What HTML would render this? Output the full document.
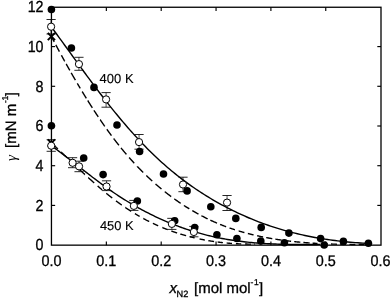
<!DOCTYPE html>
<html><head><meta charset="utf-8"><style>
html,body{margin:0;padding:0;background:#fff;}
svg{display:block;text-rendering:geometricPrecision;}
</style></head><body>
<svg width="392" height="299" viewBox="0 0 392 299">
<rect x="51.45" y="7.25" width="329.55" height="237.9" fill="none" stroke="#000" stroke-width="1.3"/>
<line x1="106.35" y1="245.15" x2="106.35" y2="241.45" stroke="#000" stroke-width="1.15"/>
<line x1="106.35" y1="7.25" x2="106.35" y2="10.95" stroke="#000" stroke-width="1.15"/>
<line x1="161.20" y1="245.15" x2="161.20" y2="241.45" stroke="#000" stroke-width="1.15"/>
<line x1="161.20" y1="7.25" x2="161.20" y2="10.95" stroke="#000" stroke-width="1.15"/>
<line x1="216.05" y1="245.15" x2="216.05" y2="241.45" stroke="#000" stroke-width="1.15"/>
<line x1="216.05" y1="7.25" x2="216.05" y2="10.95" stroke="#000" stroke-width="1.15"/>
<line x1="270.90" y1="245.15" x2="270.90" y2="241.45" stroke="#000" stroke-width="1.15"/>
<line x1="270.90" y1="7.25" x2="270.90" y2="10.95" stroke="#000" stroke-width="1.15"/>
<line x1="325.75" y1="245.15" x2="325.75" y2="241.45" stroke="#000" stroke-width="1.15"/>
<line x1="325.75" y1="7.25" x2="325.75" y2="10.95" stroke="#000" stroke-width="1.15"/>
<line x1="51.45" y1="205.40" x2="55.15" y2="205.40" stroke="#000" stroke-width="1.15"/>
<line x1="381.0" y1="205.40" x2="377.30" y2="205.40" stroke="#000" stroke-width="1.15"/>
<line x1="51.45" y1="165.70" x2="55.15" y2="165.70" stroke="#000" stroke-width="1.15"/>
<line x1="381.0" y1="165.70" x2="377.30" y2="165.70" stroke="#000" stroke-width="1.15"/>
<line x1="51.45" y1="126.00" x2="55.15" y2="126.00" stroke="#000" stroke-width="1.15"/>
<line x1="381.0" y1="126.00" x2="377.30" y2="126.00" stroke="#000" stroke-width="1.15"/>
<line x1="51.45" y1="86.30" x2="55.15" y2="86.30" stroke="#000" stroke-width="1.15"/>
<line x1="381.0" y1="86.30" x2="377.30" y2="86.30" stroke="#000" stroke-width="1.15"/>
<line x1="51.45" y1="46.60" x2="55.15" y2="46.60" stroke="#000" stroke-width="1.15"/>
<line x1="381.0" y1="46.60" x2="377.30" y2="46.60" stroke="#000" stroke-width="1.15"/>
<path d="M51.20,26.70 L52.69,28.71 L54.17,30.73 L55.65,32.76 L57.13,34.78 L58.61,36.82 L60.09,38.85 L61.58,40.89 L63.06,42.94 L64.54,44.98 L66.02,47.03 L67.50,49.08 L68.99,51.14 L70.47,53.19 L71.96,55.25 L73.45,57.31 L74.94,59.36 L76.43,61.42 L77.93,63.49 L79.42,65.55 L80.92,67.61 L82.42,69.67 L83.93,71.73 L85.44,73.78 L86.95,75.84 L88.47,77.90 L89.99,79.95 L91.51,82.00 L93.04,84.05 L94.57,86.10 L96.11,88.14 L97.65,90.18 L99.20,92.22 L100.75,94.25 L102.31,96.28 L103.87,98.30 L105.44,100.32 L107.01,102.33 L108.59,104.34 L110.18,106.35 L111.78,108.34 L113.38,110.33 L114.99,112.32 L116.60,114.30 L118.23,116.27 L119.86,118.23 L121.50,120.19 L123.14,122.14 L124.80,124.08 L126.46,126.01 L128.13,127.93 L129.82,129.84 L131.51,131.75 L133.21,133.64 L134.91,135.53 L136.63,137.40 L138.36,139.27 L140.10,141.12 L141.85,142.96 L143.61,144.79 L145.38,146.61 L147.16,148.42 L148.95,150.22 L150.76,152.00 L152.57,153.77 L154.40,155.53 L156.24,157.27 L158.09,159.00 L159.95,160.71 L161.83,162.42 L163.71,164.10 L165.62,165.78 L167.53,167.43 L169.46,169.08 L171.40,170.70 L173.35,172.31 L175.32,173.91 L177.30,175.49 L179.30,177.05 L181.30,178.60 L183.32,180.13 L185.35,181.64 L187.40,183.14 L189.45,184.62 L191.52,186.08 L193.60,187.53 L195.70,188.96 L197.80,190.37 L199.92,191.77 L202.04,193.15 L204.18,194.51 L206.33,195.86 L208.49,197.19 L210.67,198.50 L212.85,199.79 L215.04,201.06 L217.25,202.32 L219.46,203.56 L221.69,204.78 L223.92,205.98 L226.16,207.17 L228.42,208.34 L230.68,209.48 L232.96,210.61 L235.24,211.72 L237.53,212.82 L239.83,213.89 L242.14,214.95 L244.46,215.98 L246.79,217.00 L249.13,217.99 L251.47,218.97 L253.83,219.93 L256.19,220.87 L258.56,221.79 L260.93,222.69 L263.32,223.57 L265.71,224.43 L268.11,225.27 L270.52,226.09 L272.93,226.89 L275.36,227.67 L277.78,228.43 L280.22,229.17 L282.66,229.89 L285.11,230.59 L287.57,231.27 L290.03,231.92 L292.49,232.56 L294.97,233.18 L297.44,233.78 L299.93,234.36 L302.41,234.92 L304.90,235.46 L307.40,235.99 L309.90,236.49 L312.41,236.98 L314.91,237.45 L317.43,237.90 L319.94,238.33 L322.46,238.74 L324.98,239.14 L327.50,239.52 L330.03,239.88 L332.56,240.23 L335.09,240.56 L337.62,240.87 L340.15,241.17 L342.68,241.45 L345.22,241.71 L347.75,241.96 L350.29,242.19 L352.83,242.40 L355.36,242.61 L357.90,242.79 L360.44,242.96 L362.97,243.12 L365.51,243.26 L368.04,243.39 L370.57,243.50" fill="none" stroke="#000" stroke-width="1.4"/>
<path d="M51.40,36.50 L51.41,36.52 L51.64,36.97 L51.88,37.42 L52.11,37.86 L52.35,38.31 L52.58,38.76 L52.82,39.21 L53.05,39.66 L53.29,40.10 L53.52,40.55 L53.76,41.00 L54.00,41.45 L54.21,41.86 M55.79,44.83 L55.80,44.85 L56.03,45.29 L56.27,45.74 L56.51,46.19 L56.75,46.63 L56.99,47.08 L57.22,47.52 L57.46,47.97 L57.70,48.42 L57.94,48.86 L58.18,49.31 L58.42,49.75 L58.66,50.20 L58.90,50.64 L59.14,51.09 L59.38,51.54 L59.41,51.59 M61.39,55.25 L61.39,55.25 L61.64,55.70 L61.88,56.14 L62.12,56.59 L62.36,57.03 L62.61,57.47 L62.85,57.92 L63.09,58.36 L63.34,58.80 L63.58,59.25 L63.82,59.69 L64.07,60.13 L64.31,60.58 L64.56,61.02 L64.71,61.29 M66.19,63.97 L66.20,63.98 L66.44,64.42 L66.69,64.86 L66.93,65.30 L67.18,65.74 L67.43,66.18 L67.68,66.63 L67.92,67.07 L68.17,67.51 L68.42,67.95 L68.67,68.39 L68.92,68.83 L69.16,69.27 L69.41,69.71 L69.66,70.15 L69.80,70.40 M71.20,72.86 L71.20,72.86 L71.45,73.30 L71.70,73.74 L71.96,74.18 L72.21,74.62 L72.46,75.06 L72.71,75.50 L72.96,75.94 L73.22,76.37 L73.47,76.81 L73.72,77.25 L73.98,77.69 L74.23,78.13 L74.48,78.56 L74.74,79.00 L74.99,79.44 L75.25,79.88 L75.40,80.14 M77.30,83.39 L77.30,83.39 L77.56,83.82 L77.82,84.26 L78.08,84.70 L78.33,85.13 L78.59,85.57 L78.85,86.00 L79.11,86.44 L79.37,86.87 L79.63,87.31 L79.89,87.74 L80.15,88.18 L80.29,88.42 M82.21,91.60 L82.22,91.61 L82.48,92.05 L82.74,92.48 L83.01,92.91 L83.27,93.35 L83.53,93.78 L83.80,94.21 L84.06,94.64 L84.33,95.08 L84.59,95.51 L84.86,95.94 L85.12,96.37 L85.39,96.80 L85.65,97.23 L85.92,97.67 L86.19,98.10 L86.29,98.26 M87.71,100.55 L87.72,100.56 L87.99,100.99 L88.26,101.42 L88.53,101.85 L88.80,102.28 L89.07,102.71 L89.34,103.14 L89.61,103.56 L89.88,103.99 L90.15,104.42 L90.42,104.85 L90.69,105.28 L90.97,105.71 L91.24,106.13 L91.51,106.56 L91.79,106.99 L92.06,107.42 L92.34,107.84 L92.38,107.92 M94.02,110.44 L94.02,110.45 L94.30,110.88 L94.58,111.30 L94.85,111.73 L95.13,112.15 L95.41,112.57 L95.69,113.00 L95.97,113.42 L96.25,113.85 L96.53,114.27 L96.81,114.69 L97.09,115.12 L97.37,115.54 L97.65,115.96 L97.93,116.38 L98.22,116.80 L98.28,116.90 M100.22,119.78 L100.23,119.78 L100.51,120.20 L100.80,120.62 L101.08,121.04 L101.37,121.46 L101.66,121.88 L101.95,122.30 L102.23,122.71 L102.52,123.13 L102.81,123.55 L103.10,123.97 L103.39,124.38 L103.68,124.80 L103.97,125.21 L104.26,125.63 L104.56,126.04 L104.77,126.35 M106.83,129.25 L106.84,129.26 L107.13,129.67 L107.43,130.08 L107.72,130.49 L108.02,130.90 L108.32,131.31 L108.62,131.72 L108.92,132.13 L109.21,132.54 L109.51,132.95 L109.81,133.36 L110.11,133.77 L110.42,134.18 L110.72,134.59 L111.02,135.00 L111.32,135.40 L111.46,135.59 M113.64,138.49 L113.65,138.50 L113.96,138.90 L114.26,139.31 L114.57,139.71 L114.88,140.11 L115.19,140.52 L115.50,140.92 L115.81,141.32 L116.12,141.72 L116.43,142.12 L116.74,142.52 L117.06,142.92 L117.37,143.32 L117.68,143.72 L118.00,144.12 L118.31,144.51 L118.63,144.91 L118.94,145.31 L118.95,145.32 M121.05,147.93 L121.06,147.95 L121.38,148.34 L121.70,148.73 L122.02,149.13 L122.35,149.52 L122.67,149.91 L122.99,150.30 L123.31,150.69 L123.64,151.08 L123.96,151.47 L124.29,151.86 L124.61,152.25 L124.94,152.63 L125.27,153.02 L125.59,153.41 L125.92,153.80 L126.25,154.18 L126.44,154.40 M129.16,157.55 L129.17,157.56 L129.50,157.94 L129.84,158.32 L130.18,158.70 L130.51,159.08 L130.85,159.45 L131.19,159.83 L131.53,160.21 L131.87,160.59 L132.21,160.96 L132.55,161.34 L132.89,161.71 L133.23,162.09 L133.57,162.46 L133.91,162.84 L134.23,163.18 M137.28,166.43 L137.28,166.44 L137.63,166.81 L137.98,167.17 L138.34,167.54 L138.69,167.90 L139.04,168.27 L139.39,168.63 L139.75,169.00 L140.10,169.36 L140.46,169.72 L140.82,170.08 L141.17,170.44 L141.53,170.81 L141.89,171.17 L142.25,171.52 L142.61,171.88 L142.97,172.24 L143.22,172.49 M146.29,175.48 L146.30,175.49 L146.66,175.84 L147.03,176.19 L147.40,176.54 L147.77,176.89 L148.14,177.24 L148.51,177.59 L148.88,177.93 L149.25,178.28 L149.62,178.63 L149.99,178.97 L150.37,179.32 L150.74,179.66 L151.12,180.00 L151.49,180.35 L151.87,180.69 L152.24,181.03 L152.30,181.08 M155.50,183.92 L155.51,183.93 L155.89,184.26 L156.27,184.60 L156.66,184.93 L157.04,185.26 L157.43,185.59 L157.81,185.92 L158.20,186.25 L158.59,186.58 L158.98,186.91 L159.36,187.23 L159.75,187.56 L160.14,187.89 L160.53,188.21 L160.92,188.53 L161.31,188.86 L161.48,189.00 M164.81,191.69 L164.82,191.69 L165.21,192.01 L165.61,192.32 L166.01,192.64 L166.41,192.95 L166.81,193.26 L167.21,193.57 L167.61,193.88 L168.01,194.19 L168.41,194.50 L168.82,194.81 L169.22,195.12 L169.62,195.42 L170.03,195.73 L170.43,196.03 L170.84,196.34 L171.18,196.59 M174.32,198.89 L174.34,198.90 L174.75,199.20 L175.16,199.49 L175.57,199.78 L175.99,200.08 L176.40,200.37 L176.81,200.66 L177.23,200.95 L177.65,201.24 L178.06,201.53 L178.48,201.82 L178.90,202.10 L179.31,202.39 L179.73,202.67 L180.15,202.96 L180.57,203.24 L180.67,203.30 M183.94,205.46 L183.95,205.47 L184.37,205.74 L184.80,206.02 L185.22,206.29 L185.65,206.56 L186.08,206.83 L186.50,207.10 L186.93,207.37 L187.36,207.64 L187.79,207.90 L188.22,208.17 L188.65,208.43 L189.08,208.70 L189.26,208.81 M192.34,210.66 L192.35,210.66 L192.79,210.92 L193.23,211.17 L193.66,211.42 L194.10,211.68 L194.54,211.93 L194.98,212.18 L195.41,212.43 L195.85,212.68 L196.29,212.92 L196.73,213.17 L197.17,213.42 L197.62,213.66 L198.06,213.90 L198.45,214.12 M201.55,215.78 L201.56,215.78 L202.01,216.02 L202.45,216.25 L202.90,216.48 L203.35,216.71 L203.80,216.94 L204.25,217.17 L204.70,217.40 L205.15,217.63 L205.60,217.85 L206.05,218.08 L206.50,218.30 L206.95,218.52 L207.41,218.74 L207.64,218.85 M210.36,220.15 L210.37,220.16 L210.83,220.37 L211.29,220.58 L211.75,220.79 L212.20,221.00 L212.66,221.21 L213.12,221.42 L213.58,221.62 L214.04,221.83 L214.50,222.03 L214.96,222.23 L215.43,222.43 L215.89,222.63 L216.35,222.83 L216.82,223.03 L217.03,223.12 M220.07,224.38 L220.07,224.38 L220.54,224.57 L221.01,224.76 L221.48,224.95 L221.95,225.13 L222.41,225.32 L222.88,225.50 L223.35,225.68 L223.83,225.86 L224.30,226.04 L224.77,226.22 L225.24,226.40 L225.71,226.57 L226.12,226.72 M229.58,227.96 L229.59,227.97 L230.06,228.13 L230.54,228.30 L231.02,228.46 L231.49,228.62 L231.97,228.79 L232.45,228.95 L232.93,229.11 L233.41,229.26 L233.89,229.42 L234.37,229.58 L234.85,229.73 L234.92,229.75 M238.68,230.93 L238.69,230.93 L239.18,231.07 L239.66,231.22 L240.15,231.36 L240.63,231.51 L241.12,231.65 L241.60,231.79 L242.09,231.93 L242.58,232.07 L243.06,232.20 L243.55,232.34 L244.04,232.48 L244.41,232.58 M247.89,233.51 L247.90,233.51 L248.39,233.64 L248.88,233.76 L249.37,233.89 L249.86,234.01 L250.35,234.13 L250.85,234.26 L251.34,234.38 L251.83,234.50 L252.33,234.62 L252.82,234.73 L253.31,234.85 L253.61,234.92 M257.09,235.72 L257.10,235.72 L257.59,235.83 L258.09,235.94 L258.59,236.05 L259.09,236.15 L259.58,236.26 L260.08,236.36 L260.58,236.47 L261.08,236.57 L261.58,236.67 L262.08,236.77 L262.57,236.88 L263.07,236.98 L263.11,236.98 M266.19,237.58 L266.19,237.58 L266.70,237.67 L267.20,237.77 L267.70,237.86 L268.20,237.95 L268.70,238.04 L269.20,238.13 L269.71,238.22 L270.21,238.31 L270.71,238.39 L271.21,238.48 L271.72,238.57 L272.22,238.65 L272.31,238.66 M275.40,239.17 L275.41,239.17 L275.91,239.25 L276.42,239.33 L276.92,239.40 L277.43,239.48 L277.93,239.56 L278.44,239.63 L278.94,239.71 L279.45,239.78 L279.95,239.85 L280.46,239.93 L280.97,240.00 L281.47,240.07 L281.60,240.09 M284.80,240.52 L284.82,240.52 L285.32,240.58 L285.83,240.65 L286.34,240.71 L286.85,240.78 L287.35,240.84 L287.86,240.90 L288.37,240.96 L288.88,241.02 L289.39,241.08 L289.89,241.14 L290.40,241.20 L290.91,241.26 L291.10,241.28 M294.20,241.62 L294.21,241.62 L294.72,241.67 L295.23,241.72 L295.73,241.77 L296.24,241.83 L296.75,241.88 L297.26,241.93 L297.77,241.98 L298.28,242.02 L298.79,242.07 L299.30,242.12 L299.81,242.17 L300.30,242.21 M303.40,242.48 L303.42,242.48 L303.93,242.52 L304.44,242.57 L304.95,242.61 L305.46,242.65 L305.97,242.69 L306.48,242.73 L306.99,242.76 L307.50,242.80 L308.01,242.84 L308.52,242.88 L309.02,242.91 L309.53,242.95 L309.60,242.96 M312.60,243.16 L312.61,243.16 L313.12,243.19 L313.63,243.22 L314.14,243.25 L314.65,243.28 L315.16,243.31 L315.67,243.34 L316.18,243.37 L316.69,243.40 L317.20,243.43 L317.50,243.45 M321.81,243.67 L321.82,243.67 L322.33,243.69 L322.83,243.71 L323.34,243.74 L323.85,243.76 L324.36,243.78 L324.87,243.80 L325.37,243.82 L325.88,243.85 L326.39,243.87 L326.90,243.89 L327.40,243.90 L327.68,243.92 M331.03,244.03 L331.03,244.03 L331.54,244.05 L332.05,244.07 L332.55,244.08 L333.06,244.10 L333.56,244.11 L334.07,244.12 L334.58,244.14 L335.08,244.15 L335.59,244.17 L336.09,244.18 L336.60,244.19 L336.90,244.20 M340.25,244.27 L340.27,244.27 L340.77,244.28 L341.27,244.29 L341.78,244.30 L342.28,244.31 L342.78,244.32 L343.28,244.33 L343.79,244.34 L344.29,244.34 L344.79,244.35 L345.29,244.36 L345.79,244.37 L346.12,244.37 M349.48,244.41 L349.48,244.41 L349.98,244.41 L350.48,244.42 L350.98,244.42 L351.47,244.43 L351.97,244.43 L352.47,244.43 L352.97,244.44 L353.47,244.44 L353.96,244.44 L354.46,244.44 L354.96,244.45 L355.35,244.45 M358.70,244.46 L358.71,244.46 L359.20,244.46 L359.69,244.46 L360.19,244.46 L360.68,244.46 L361.18,244.46 L361.67,244.46 L362.16,244.46 L362.65,244.46 L363.15,244.46 L363.64,244.46 L364.13,244.46 L364.57,244.45" fill="none" stroke="#000" stroke-width="1.4"/>
<path d="M51.20,145.70 L52.71,146.77 L54.21,147.85 L55.72,148.94 L57.21,150.03 L58.70,151.13 L60.19,152.24 L61.68,153.35 L63.16,154.46 L64.63,155.58 L66.11,156.71 L67.58,157.83 L69.05,158.96 L70.52,160.10 L71.99,161.23 L73.46,162.37 L74.92,163.51 L76.39,164.65 L77.85,165.79 L79.31,166.94 L80.77,168.08 L82.24,169.22 L83.70,170.36 L85.17,171.50 L86.63,172.64 L88.10,173.78 L89.57,174.92 L91.04,176.05 L92.51,177.18 L93.99,178.31 L95.46,179.43 L96.94,180.55 L98.43,181.66 L99.91,182.77 L101.40,183.87 L102.90,184.97 L104.40,186.06 L105.90,187.15 L107.41,188.22 L108.92,189.30 L110.44,190.36 L111.97,191.41 L113.50,192.46 L115.03,193.50 L116.57,194.53 L118.12,195.55 L119.67,196.56 L121.23,197.57 L122.79,198.56 L124.36,199.55 L125.93,200.53 L127.51,201.50 L129.10,202.46 L130.69,203.41 L132.28,204.35 L133.89,205.28 L135.49,206.21 L137.10,207.12 L138.72,208.02 L140.35,208.92 L141.97,209.80 L143.61,210.68 L145.25,211.54 L146.89,212.40 L148.54,213.24 L150.20,214.08 L151.86,214.90 L153.53,215.71 L155.20,216.52 L156.87,217.31 L158.56,218.09 L160.24,218.86 L161.94,219.62 L163.63,220.37 L165.34,221.11 L167.05,221.84 L168.76,222.55 L170.48,223.26 L172.20,223.95 L173.93,224.64 L175.66,225.31 L177.39,225.97 L179.13,226.61 L180.88,227.25 L182.63,227.87 L184.38,228.49 L186.14,229.09 L187.90,229.67 L189.66,230.25 L191.43,230.81 L193.20,231.37 L194.98,231.91 L196.76,232.43 L198.54,232.95 L200.32,233.45 L202.11,233.94 L203.90,234.41 L205.70,234.88 L207.50,235.33 L209.30,235.77 L211.10,236.19 L212.91,236.60 L214.72,237.00 L216.53,237.38 L218.34,237.76 L220.16,238.12 L221.98,238.47 L223.80,238.80 L225.62,239.12 L227.45,239.44 L229.27,239.74 L231.10,240.03 L232.93,240.30 L234.77,240.57 L236.60,240.83 L238.44,241.07 L240.28,241.31 L242.12,241.53 L243.96,241.75 L245.80,241.95 L247.65,242.15 L249.49,242.34 L251.34,242.51 L253.19,242.68 L255.04,242.84 L256.89,242.99 L258.74,243.13 L260.59,243.27 L262.45,243.39 L264.30,243.51 L266.16,243.62 L268.01,243.72 L269.87,243.82 L271.73,243.91 L273.59,243.99 L275.44,244.07 L277.30,244.13 L279.16,244.20 L281.02,244.25 L282.88,244.30 L284.74,244.35 L286.60,244.39 L288.46,244.42 L290.31,244.45 L292.17,244.47 L294.03,244.49 L295.89,244.51 L297.75,244.52 L299.61,244.53 L301.46,244.53 L303.32,244.53 L305.18,244.52 L307.03,244.51 L308.88,244.50 L310.74,244.49 L312.59,244.47 L314.44,244.45 L316.29,244.43 L318.14,244.40 L319.99,244.38" fill="none" stroke="#000" stroke-width="1.4"/>
<path d="M51.40,143.00 L51.40,143.00 L51.62,143.19 L51.83,143.39 L52.04,143.58 L52.26,143.78 L52.47,143.97 L52.69,144.17 L52.90,144.37 L53.12,144.56 L53.33,144.76 L53.54,144.95 L53.76,145.15 L53.97,145.35 L54.19,145.54 L54.40,145.74 L54.61,145.94 L54.83,146.13 L55.04,146.33 L55.26,146.53 L55.47,146.73 L55.68,146.92 L55.90,147.12 L56.11,147.32 L56.32,147.52 L56.54,147.71 L56.75,147.91 L56.97,148.11 L57.18,148.31 L57.39,148.51 L57.61,148.71 L57.82,148.90 L57.94,149.02 M61.29,152.16 L61.30,152.16 L61.51,152.36 L61.72,152.56 L61.94,152.76 L62.15,152.96 L62.36,153.17 L62.58,153.37 L62.79,153.57 L63.00,153.77 L63.21,153.97 L63.43,154.17 L63.64,154.37 L63.85,154.57 L64.07,154.77 L64.28,154.98 L64.49,155.18 L64.70,155.38 L64.92,155.58 L65.13,155.78 L65.34,155.98 L65.56,156.19 L65.77,156.39 L65.98,156.59 L66.19,156.79 L66.41,156.99 L66.62,157.20 L66.83,157.40 L67.05,157.60 L67.12,157.68 M70.29,160.69 L70.29,160.69 L70.50,160.89 L70.72,161.09 L70.93,161.30 L71.14,161.50 L71.36,161.70 L71.57,161.90 L71.78,162.11 L72.00,162.31 L72.21,162.51 L72.42,162.72 L72.64,162.92 L72.85,163.12 L73.06,163.32 L73.28,163.53 L73.49,163.73 L73.70,163.93 L73.92,164.14 L74.13,164.34 L74.35,164.54 L74.56,164.75 L74.77,164.95 L74.99,165.15 L75.20,165.35 L75.41,165.56 L75.63,165.76 L75.84,165.96 L75.91,166.03 M79.29,169.23 L79.30,169.23 L79.51,169.43 L79.73,169.64 L79.94,169.84 L80.16,170.04 L80.37,170.24 L80.59,170.45 L80.80,170.65 L81.02,170.85 L81.23,171.05 L81.45,171.25 L81.66,171.46 L81.88,171.66 L82.09,171.86 L82.31,172.06 L82.53,172.26 L82.74,172.47 L82.96,172.67 L83.17,172.87 L83.39,173.07 L83.60,173.27 L83.82,173.47 L84.04,173.67 L84.25,173.88 L84.47,174.08 L84.69,174.28 L84.90,174.48 L84.91,174.48 M88.29,177.61 L88.30,177.61 L88.52,177.81 L88.73,178.01 L88.95,178.21 L89.17,178.41 L89.39,178.61 L89.61,178.81 L89.83,179.01 L90.04,179.21 L90.26,179.40 L90.48,179.60 L90.70,179.80 L90.92,180.00 L91.14,180.20 L91.36,180.40 L91.58,180.59 L91.80,180.79 L92.02,180.99 L92.24,181.19 L92.46,181.38 L92.68,181.58 L92.90,181.78 L93.12,181.98 L93.34,182.17 L93.56,182.37 L93.78,182.57 L94.00,182.76 L94.20,182.94 M97.60,185.94 L97.60,185.94 L97.83,186.14 L98.05,186.33 L98.27,186.52 L98.49,186.72 L98.72,186.91 L98.94,187.10 L99.16,187.30 L99.39,187.49 L99.61,187.68 L99.84,187.87 L100.06,188.07 L100.28,188.26 L100.51,188.45 L100.73,188.64 L100.96,188.83 L101.18,189.02 L101.41,189.21 L101.63,189.41 L101.86,189.60 L102.08,189.79 L102.19,189.88 M106.31,193.30 L106.32,193.31 L106.54,193.49 L106.77,193.68 L107.00,193.87 L107.23,194.05 L107.46,194.24 L107.69,194.42 L107.92,194.61 L108.15,194.79 L108.38,194.98 L108.61,195.16 L108.84,195.35 L109.07,195.53 L109.30,195.71 L109.53,195.90 L109.76,196.08 L109.99,196.26 L110.22,196.45 L110.45,196.63 L110.68,196.81 L110.91,196.99 L111.14,197.17 L111.38,197.35 L111.61,197.54 L111.84,197.72 L112.07,197.90 L112.28,198.06 M115.92,200.83 L115.92,200.83 L116.16,201.00 L116.39,201.18 L116.63,201.36 L116.86,201.53 L117.10,201.70 L117.34,201.88 L117.57,202.05 L117.81,202.23 L118.05,202.40 L118.29,202.57 L118.52,202.75 L118.76,202.92 L119.00,203.09 L119.24,203.26 L119.48,203.44 L119.72,203.61 L119.95,203.78 L120.19,203.95 L120.43,204.12 L120.67,204.29 L120.91,204.46 L121.15,204.63 L121.39,204.80 L121.63,204.97 L121.77,205.07 M125.33,207.52 L125.34,207.52 L125.58,207.69 L125.83,207.85 L126.07,208.01 L126.31,208.18 L126.56,208.34 L126.80,208.50 L127.05,208.66 L127.29,208.82 L127.54,208.99 L127.78,209.15 L128.03,209.31 L128.27,209.47 L128.52,209.63 L128.76,209.79 L129.01,209.95 L129.26,210.11 L129.50,210.27 L129.75,210.43 L130.00,210.58 L130.25,210.74 L130.49,210.90 L130.74,211.06 L130.99,211.21 L131.16,211.32 M134.94,213.66 L134.95,213.66 L135.20,213.81 L135.45,213.97 L135.70,214.12 L135.95,214.27 L136.21,214.42 L136.46,214.57 L136.71,214.72 L136.96,214.86 L137.22,215.01 L137.47,215.16 L137.72,215.31 L137.97,215.46 L138.23,215.60 L138.48,215.75 L138.74,215.90 L138.99,216.04 L139.24,216.19 L139.50,216.33 L139.65,216.42 M143.35,218.48 L143.36,218.48 L143.61,218.62 L143.87,218.76 L144.13,218.90 L144.39,219.04 L144.65,219.18 L144.90,219.32 L145.16,219.45 L145.42,219.59 L145.68,219.73 L145.94,219.87 L146.20,220.00 L146.46,220.14 L146.72,220.27 L146.98,220.41 L147.24,220.54 L147.50,220.68 L147.76,220.81 L148.02,220.94 L148.28,221.08 L148.54,221.21 L148.80,221.34 L149.06,221.47 L149.14,221.51 M152.86,223.33 L152.86,223.33 L153.13,223.46 L153.39,223.59 L153.65,223.71 L153.92,223.84 L154.18,223.96 L154.45,224.08 L154.72,224.21 L154.98,224.33 L155.25,224.45 L155.51,224.58 L155.78,224.70 L156.05,224.82 L156.31,224.94 L156.58,225.06 L156.85,225.18 L157.11,225.30 L157.38,225.42 L157.65,225.54 L157.92,225.66 L158.13,225.76 M162.37,227.57 L162.38,227.57 L162.65,227.68 L162.92,227.79 L163.19,227.90 L163.46,228.01 L163.73,228.12 L164.01,228.23 L164.28,228.34 L164.55,228.45 L164.82,228.56 L165.10,228.67 L165.37,228.78 L165.64,228.88 L165.91,228.99 L166.19,229.10 L166.46,229.20 L166.74,229.31 L167.01,229.41 L167.28,229.52 L167.56,229.62 L167.63,229.65 M171.38,231.03 L171.38,231.03 L171.65,231.13 L171.93,231.23 L172.21,231.33 L172.49,231.43 L172.76,231.52 L173.04,231.62 L173.32,231.72 L173.59,231.81 L173.87,231.91 L174.15,232.00 L174.43,232.10 L174.71,232.19 L174.98,232.29 L175.26,232.38 L175.54,232.47 L175.82,232.57 L176.10,232.66 L176.38,232.75 L176.66,232.84 L176.94,232.93 L177.12,232.99 M180.38,234.02 L180.39,234.03 L180.67,234.11 L180.95,234.20 L181.23,234.28 L181.51,234.37 L181.80,234.45 L182.08,234.54 L182.36,234.62 L182.64,234.70 L182.92,234.79 L183.21,234.87 L183.49,234.95 L183.77,235.03 L184.05,235.11 L184.34,235.20 L184.62,235.28 L184.90,235.36 L185.19,235.44 L185.47,235.52 L185.75,235.60 L186.04,235.67 L186.11,235.70 M189.99,236.73 L190.00,236.73 L190.28,236.80 L190.57,236.88 L190.85,236.95 L191.14,237.02 L191.42,237.09 L191.71,237.16 L192.00,237.23 L192.28,237.30 L192.57,237.37 L192.85,237.44 L193.14,237.51 L193.43,237.58 L193.71,237.65 L194.00,237.72 L194.29,237.79 L194.57,237.85 L194.61,237.86 M199.59,238.97 L199.59,238.97 L199.88,239.03 L200.17,239.09 L200.46,239.15 L200.75,239.21 L201.04,239.27 L201.33,239.33 L201.61,239.39 L201.90,239.44 L202.19,239.50 L202.48,239.56 L202.77,239.62 L203.06,239.67 L203.35,239.73 L203.64,239.78 L203.93,239.84 L204.22,239.89 L204.51,239.95 L204.80,240.00 L204.81,240.00 M208.39,240.64 L208.40,240.64 L208.69,240.69 L208.98,240.74 L209.28,240.79 L209.57,240.84 L209.86,240.89 L210.15,240.93 L210.44,240.98 L210.73,241.03 L211.02,241.07 L211.31,241.12 L211.61,241.17 L211.90,241.21 L212.19,241.26 L212.48,241.30 L212.77,241.35 L213.06,241.39 L213.36,241.43 L213.65,241.48 L213.94,241.52 L214.10,241.54 M217.70,242.04 L217.71,242.04 L218.00,242.07 L218.29,242.11 L218.59,242.15 L218.88,242.19 L219.17,242.22 L219.46,242.26 L219.76,242.29 L220.05,242.33 L220.34,242.36 L220.64,242.40 L220.93,242.43 L221.22,242.47 L221.52,242.50 L221.81,242.53 L222.10,242.57 L222.40,242.60 L222.69,242.63 L222.90,242.65 M226.70,243.03 L226.71,243.03 L227.00,243.06 L227.29,243.09 L227.59,243.11 L227.88,243.14 L228.18,243.16 L228.47,243.19 L228.76,243.21 L229.06,243.24 L229.35,243.26 L229.64,243.29 L229.94,243.31 L230.23,243.33 L230.53,243.35 L230.82,243.38 L231.12,243.40 L231.41,243.42 L231.70,243.44 L232.00,243.46 L232.00,243.46 M235.90,243.71 L235.90,243.71 L236.20,243.72 L236.49,243.74 L236.79,243.75 L237.08,243.77 L237.38,243.78 L237.67,243.80 L237.96,243.81 L238.26,243.82 L238.55,243.84 L238.85,243.85 L239.14,243.86 L239.44,243.88 L239.73,243.89 L240.02,243.90 L240.32,243.91 L240.61,243.92 L240.91,243.93 L241.20,243.94 M245.12,244.04 L245.13,244.04 L245.42,244.05 L245.72,244.05 L246.01,244.06 L246.31,244.06 L246.60,244.07 L246.89,244.07 L247.19,244.07 L247.48,244.08 L247.78,244.08 L248.07,244.08 L248.36,244.08 L248.66,244.08 L248.95,244.09 L249.24,244.09 L249.54,244.09 L249.83,244.09 L250.13,244.09 L250.42,244.09 L250.71,244.09 L250.99,244.08 M254.34,244.05 L254.35,244.05 L254.64,244.04 L254.94,244.04 L255.05,244.03" fill="none" stroke="#000" stroke-width="1.4"/>
<line x1="51.1" y1="19.5" x2="51.1" y2="34.0" stroke="#000" stroke-width="0.7"/>
<line x1="46.50" y1="19.5" x2="55.70" y2="19.5" stroke="#000" stroke-width="0.85"/>
<line x1="46.50" y1="34.0" x2="55.70" y2="34.0" stroke="#000" stroke-width="0.85"/>
<line x1="78.95" y1="57.3" x2="78.95" y2="70.3" stroke="#000" stroke-width="0.7"/>
<line x1="74.35" y1="57.3" x2="83.55" y2="57.3" stroke="#000" stroke-width="0.85"/>
<line x1="74.35" y1="70.3" x2="83.55" y2="70.3" stroke="#000" stroke-width="0.85"/>
<line x1="106.1" y1="92.6" x2="106.1" y2="107.2" stroke="#000" stroke-width="0.7"/>
<line x1="101.50" y1="92.6" x2="110.70" y2="92.6" stroke="#000" stroke-width="0.85"/>
<line x1="101.50" y1="107.2" x2="110.70" y2="107.2" stroke="#000" stroke-width="0.85"/>
<line x1="139.05" y1="134.5" x2="139.05" y2="149.2" stroke="#000" stroke-width="0.7"/>
<line x1="134.45" y1="134.5" x2="143.65" y2="134.5" stroke="#000" stroke-width="0.85"/>
<line x1="134.45" y1="149.2" x2="143.65" y2="149.2" stroke="#000" stroke-width="0.85"/>
<line x1="183.0" y1="177.2" x2="183.0" y2="191.7" stroke="#000" stroke-width="0.7"/>
<line x1="178.40" y1="177.2" x2="187.60" y2="177.2" stroke="#000" stroke-width="0.85"/>
<line x1="178.40" y1="191.7" x2="187.60" y2="191.7" stroke="#000" stroke-width="0.85"/>
<line x1="227.05" y1="195.5" x2="227.05" y2="210.5" stroke="#000" stroke-width="0.7"/>
<line x1="222.45" y1="195.5" x2="231.65" y2="195.5" stroke="#000" stroke-width="0.85"/>
<line x1="222.45" y1="210.5" x2="231.65" y2="210.5" stroke="#000" stroke-width="0.85"/>
<line x1="51.2" y1="139.7" x2="51.2" y2="151.3" stroke="#000" stroke-width="0.7"/>
<line x1="46.60" y1="139.7" x2="55.80" y2="139.7" stroke="#000" stroke-width="0.85"/>
<line x1="46.60" y1="151.3" x2="55.80" y2="151.3" stroke="#000" stroke-width="0.85"/>
<line x1="72.6" y1="157.7" x2="72.6" y2="167.7" stroke="#000" stroke-width="0.7"/>
<line x1="68.00" y1="157.7" x2="77.20" y2="157.7" stroke="#000" stroke-width="0.85"/>
<line x1="68.00" y1="167.7" x2="77.20" y2="167.7" stroke="#000" stroke-width="0.85"/>
<line x1="79.05" y1="161.2" x2="79.05" y2="171.7" stroke="#000" stroke-width="0.7"/>
<line x1="74.45" y1="161.2" x2="83.65" y2="161.2" stroke="#000" stroke-width="0.85"/>
<line x1="74.45" y1="171.7" x2="83.65" y2="171.7" stroke="#000" stroke-width="0.85"/>
<line x1="106.55" y1="180.8" x2="106.55" y2="190.6" stroke="#000" stroke-width="0.7"/>
<line x1="101.95" y1="180.8" x2="111.15" y2="180.8" stroke="#000" stroke-width="0.85"/>
<line x1="101.95" y1="190.6" x2="111.15" y2="190.6" stroke="#000" stroke-width="0.85"/>
<line x1="133.85" y1="200.4" x2="133.85" y2="210.4" stroke="#000" stroke-width="0.7"/>
<line x1="129.25" y1="200.4" x2="138.45" y2="200.4" stroke="#000" stroke-width="0.85"/>
<line x1="129.25" y1="210.4" x2="138.45" y2="210.4" stroke="#000" stroke-width="0.85"/>
<line x1="171.85" y1="218.35" x2="171.85" y2="229.4" stroke="#000" stroke-width="0.7"/>
<line x1="167.25" y1="218.35" x2="176.45" y2="218.35" stroke="#000" stroke-width="0.85"/>
<line x1="167.25" y1="229.4" x2="176.45" y2="229.4" stroke="#000" stroke-width="0.85"/>
<line x1="193.85" y1="226.4" x2="193.85" y2="236.8" stroke="#000" stroke-width="0.7"/>
<line x1="189.25" y1="226.4" x2="198.45" y2="226.4" stroke="#000" stroke-width="0.85"/>
<line x1="189.25" y1="236.8" x2="198.45" y2="236.8" stroke="#000" stroke-width="0.85"/>
<path d="M47.8,32.9 L55.0,40.1 M47.8,40.1 L55.0,32.9" stroke="#000" stroke-width="2"/>
<path d="M47.8,139.4 L55.0,146.6 M47.8,146.6 L55.0,139.4" stroke="#000" stroke-width="2"/>
<circle cx="51.4" cy="9.5" r="3.8" fill="#000"/>
<circle cx="71.4" cy="48.0" r="3.8" fill="#000"/>
<circle cx="94.0" cy="87.4" r="3.8" fill="#000"/>
<circle cx="117.0" cy="125.05" r="3.8" fill="#000"/>
<circle cx="139.6" cy="151.5" r="3.8" fill="#000"/>
<circle cx="163.5" cy="174.0" r="3.8" fill="#000"/>
<circle cx="187.1" cy="190.9" r="3.8" fill="#000"/>
<circle cx="210.8" cy="206.8" r="3.8" fill="#000"/>
<circle cx="235.8" cy="218.4" r="3.8" fill="#000"/>
<circle cx="261.2" cy="227.4" r="3.8" fill="#000"/>
<circle cx="288.9" cy="233.1" r="3.8" fill="#000"/>
<circle cx="320.6" cy="238.6" r="3.8" fill="#000"/>
<circle cx="343.4" cy="241.4" r="3.8" fill="#000"/>
<circle cx="368.4" cy="243.3" r="3.8" fill="#000"/>
<circle cx="51.4" cy="125.8" r="3.8" fill="#000"/>
<circle cx="83.7" cy="158.0" r="3.8" fill="#000"/>
<circle cx="103.1" cy="174.6" r="3.8" fill="#000"/>
<circle cx="137.35" cy="201.0" r="3.8" fill="#000"/>
<circle cx="174.7" cy="220.7" r="3.8" fill="#000"/>
<circle cx="194.7" cy="227.6" r="3.8" fill="#000"/>
<circle cx="216.9" cy="234.7" r="3.8" fill="#000"/>
<circle cx="236.9" cy="238.5" r="3.8" fill="#000"/>
<circle cx="260.8" cy="241.1" r="3.8" fill="#000"/>
<circle cx="284.4" cy="242.8" r="3.8" fill="#000"/>
<circle cx="324.2" cy="245.0" r="3.8" fill="#000"/>
<circle cx="51.1" cy="26.7" r="3.6" fill="#fff" stroke="#000" stroke-width="1"/>
<circle cx="78.95" cy="64.1" r="3.6" fill="#fff" stroke="#000" stroke-width="1"/>
<circle cx="106.1" cy="99.4" r="3.6" fill="#fff" stroke="#000" stroke-width="1"/>
<circle cx="139.05" cy="142.1" r="3.6" fill="#fff" stroke="#000" stroke-width="1"/>
<circle cx="183.0" cy="184.5" r="3.6" fill="#fff" stroke="#000" stroke-width="1"/>
<circle cx="227.05" cy="202.6" r="3.6" fill="#fff" stroke="#000" stroke-width="1"/>
<circle cx="51.2" cy="145.7" r="3.6" fill="#fff" stroke="#000" stroke-width="1"/>
<circle cx="72.6" cy="162.8" r="3.6" fill="#fff" stroke="#000" stroke-width="1"/>
<circle cx="79.05" cy="166.35" r="3.6" fill="#fff" stroke="#000" stroke-width="1"/>
<circle cx="106.55" cy="186.5" r="3.6" fill="#fff" stroke="#000" stroke-width="1"/>
<circle cx="133.85" cy="205.9" r="3.6" fill="#fff" stroke="#000" stroke-width="1"/>
<circle cx="171.85" cy="223.9" r="3.6" fill="#fff" stroke="#000" stroke-width="1"/>
<circle cx="193.85" cy="232.0" r="3.6" fill="#fff" stroke="#000" stroke-width="1"/>
<text transform="translate(51.50,265.65) scale(0.96,1.03)" style="font-family:'Liberation Sans',Arial,sans-serif" stroke="#000" stroke-width="0.3" font-size="15" text-anchor="middle">0.0</text>
<text transform="translate(106.35,265.65) scale(0.96,1.03)" style="font-family:'Liberation Sans',Arial,sans-serif" stroke="#000" stroke-width="0.3" font-size="15" text-anchor="middle">0.1</text>
<text transform="translate(161.20,265.65) scale(0.96,1.03)" style="font-family:'Liberation Sans',Arial,sans-serif" stroke="#000" stroke-width="0.3" font-size="15" text-anchor="middle">0.2</text>
<text transform="translate(216.05,265.65) scale(0.96,1.03)" style="font-family:'Liberation Sans',Arial,sans-serif" stroke="#000" stroke-width="0.3" font-size="15" text-anchor="middle">0.3</text>
<text transform="translate(270.90,265.65) scale(0.96,1.03)" style="font-family:'Liberation Sans',Arial,sans-serif" stroke="#000" stroke-width="0.3" font-size="15" text-anchor="middle">0.4</text>
<text transform="translate(325.75,265.65) scale(0.96,1.03)" style="font-family:'Liberation Sans',Arial,sans-serif" stroke="#000" stroke-width="0.3" font-size="15" text-anchor="middle">0.5</text>
<text transform="translate(380.60,265.65) scale(0.96,1.03)" style="font-family:'Liberation Sans',Arial,sans-serif" stroke="#000" stroke-width="0.3" font-size="15" text-anchor="middle">0.6</text>
<text transform="translate(43.5,250.30) scale(0.95,1.07)" style="font-family:'Liberation Sans',Arial,sans-serif" stroke="#000" stroke-width="0.3" font-size="15" text-anchor="end">0</text>
<text transform="translate(43.5,210.60) scale(0.95,1.07)" style="font-family:'Liberation Sans',Arial,sans-serif" stroke="#000" stroke-width="0.3" font-size="15" text-anchor="end">2</text>
<text transform="translate(43.5,170.90) scale(0.95,1.07)" style="font-family:'Liberation Sans',Arial,sans-serif" stroke="#000" stroke-width="0.3" font-size="15" text-anchor="end">4</text>
<text transform="translate(43.5,131.20) scale(0.95,1.07)" style="font-family:'Liberation Sans',Arial,sans-serif" stroke="#000" stroke-width="0.3" font-size="15" text-anchor="end">6</text>
<text transform="translate(43.5,91.50) scale(0.95,1.07)" style="font-family:'Liberation Sans',Arial,sans-serif" stroke="#000" stroke-width="0.3" font-size="15" text-anchor="end">8</text>
<text transform="translate(43.5,51.80) scale(0.95,1.07)" style="font-family:'Liberation Sans',Arial,sans-serif" stroke="#000" stroke-width="0.3" font-size="15" text-anchor="end">10</text>
<text transform="translate(43.5,12.10) scale(0.95,1.07)" style="font-family:'Liberation Sans',Arial,sans-serif" stroke="#000" stroke-width="0.3" font-size="15" text-anchor="end">12</text>
<text x="99.6" y="83" style="font-family:'Liberation Sans',Arial,sans-serif" stroke="#000" stroke-width="0.12" font-size="13">400 K</text>
<text x="99.9" y="230.3" style="font-family:'Liberation Sans',Arial,sans-serif" stroke="#000" stroke-width="0.12" font-size="12.9">450 K</text>
<text x="169.5" y="292.7" style="font-family:'Liberation Sans',Arial,sans-serif" stroke="#000" stroke-width="0.3" font-size="15" font-style="italic">x</text>
<text x="176.5" y="297.2" style="font-family:'Liberation Sans',Arial,sans-serif" stroke="#000" stroke-width="0.3" font-size="9.2">N2</text>
<text x="194" y="292.7" style="font-family:'Liberation Sans',Arial,sans-serif" stroke="#000" stroke-width="0.3" font-size="15">[mol mol</text>
<text x="250.6" y="285.0" style="font-family:'Liberation Sans',Arial,sans-serif" stroke="#000" stroke-width="0.3" font-size="8.5">-</text>
<text x="254" y="285.0" style="font-family:'Liberation Sans',Arial,sans-serif" stroke="#000" stroke-width="0.3" font-size="8.5">1</text>
<text x="259.1" y="292.7" style="font-family:'Liberation Sans',Arial,sans-serif" stroke="#000" stroke-width="0.3" font-size="15">]</text>
<text transform="translate(15.8,0) rotate(-90)" x="-161" y="0" style="font-family:'Liberation Serif',serif;font-style:italic" font-size="15">γ</text>
<text transform="translate(15.8,0) rotate(-90)" x="-148" y="0" style="font-family:'Liberation Sans',Arial,sans-serif" stroke="#000" stroke-width="0.3" font-size="15">[mN m</text>
<text transform="translate(15.8,0) rotate(-90)" x="-103" y="-7.7" style="font-family:'Liberation Sans',Arial,sans-serif" stroke="#000" stroke-width="0.3" font-size="8.5">-</text>
<text transform="translate(15.8,0) rotate(-90)" x="-100.6" y="-7.7" style="font-family:'Liberation Sans',Arial,sans-serif" stroke="#000" stroke-width="0.3" font-size="8.5">1</text>
<text transform="translate(15.8,0) rotate(-90)" x="-96.2" y="0" style="font-family:'Liberation Sans',Arial,sans-serif" stroke="#000" stroke-width="0.3" font-size="15">]</text>
</svg>
</body></html>
